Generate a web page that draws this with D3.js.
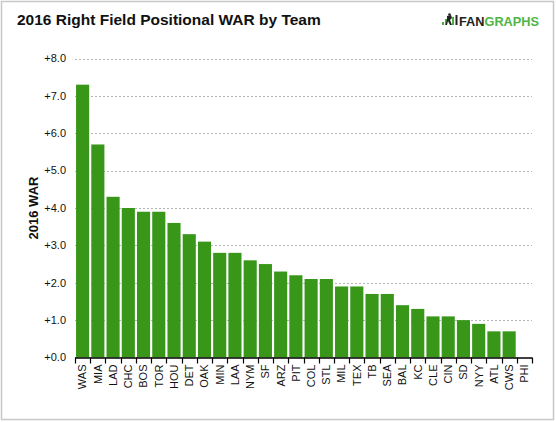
<!DOCTYPE html>
<html>
<head>
<meta charset="utf-8">
<script src="https://cdn.jsdelivr.net/npm/d3@7"></script>
<style>
  html, body { margin: 0; padding: 0; background: #fff; }
  svg { display: block; }
</style>
</head>
<body>
<svg id="chart" width="556" height="422"></svg>
<script>
const teams = ["WAS","MIA","LAD","CHC","BOS","TOR","HOU","DET","OAK","MIN","LAA","NYM","SF","ARZ","PIT","COL","STL","MIL","TEX","TB","SEA","BAL","KC","CLE","CIN","SD","NYY","ATL","CWS","PHI"];
const war = [7.3,5.7,4.3,4.0,3.9,3.9,3.6,3.3,3.1,2.8,2.8,2.6,2.5,2.3,2.2,2.1,2.1,1.9,1.9,1.7,1.7,1.4,1.3,1.1,1.1,1.0,0.9,0.7,0.7,0.0];
const yTicks = [0,1,2,3,4,5,6,7,8];
const title = "2016 Right Field Positional WAR by Team";
const yLabel = "2016 WAR";

(function(){
const svg = d3.select("#chart");
const W = 556, H = 422;
const mLeft = 75, mRight = 532, mTop = 58.5, mBottom = 357.5;

svg.append("rect").attr("x",1.5).attr("y",1.5).attr("width",W-4).attr("height",H-4)
  .attr("fill","#fff").attr("stroke","#c8c8c8").attr("stroke-width",1.5);

const x = d3.scaleBand().domain(teams).range([mLeft,mRight]).paddingInner(0.14).paddingOuter(0.07);
const y = d3.scaleLinear().domain([0,8]).range([mBottom, mTop]);

// gridlines
svg.append("g").selectAll("line").data(yTicks.filter(d=>d>0)).join("line")
  .attr("x1",mLeft).attr("x2",mRight)
  .attr("y1",d=>Math.round(y(d))+0.5).attr("y2",d=>Math.round(y(d))+0.5)
  .attr("stroke","#b4b4b4").attr("stroke-width",1).attr("stroke-dasharray","2,2");

// y tick labels
svg.append("g").selectAll("text").data(yTicks).join("text")
  .attr("x",66).attr("y",d=>y(d)).attr("dy","0.35em")
  .attr("text-anchor","end")
  .attr("font-family","Arial, 'Liberation Sans', sans-serif").attr("font-size",11)
  .attr("fill","#111")
  .text(d=>"+"+d.toFixed(1));

// bars
svg.append("g").selectAll("rect").data(teams).join("rect")
  .attr("x",d=>x(d)).attr("width",x.bandwidth())
  .attr("y",(d,i)=>y(war[i])).attr("height",(d,i)=>y(0)-y(war[i]))
  .attr("fill","#389619");

// x axis
const xAxis = d3.axisBottom(x).tickSize(0).tickFormat("");
const ax = svg.append("g").attr("transform",`translate(0,${mBottom})`).call(xAxis);
ax.select(".domain").attr("stroke","#000").attr("stroke-width",1.5).attr("d",`M${mLeft},0.5H${mRight}`);
const bounds = d3.range(teams.length+1).map(i=>mLeft + i*(mRight-mLeft)/teams.length);
svg.append("g").selectAll("line").data(bounds).join("line")
  .attr("x1",d=>Math.round(d)+0.5).attr("x2",d=>Math.round(d)+0.5)
  .attr("y1",mBottom).attr("y2",mBottom+6)
  .attr("stroke","#000").attr("stroke-width",1.2);

svg.append("g").selectAll("text").data(teams).join("text")
  .attr("transform",d=>`translate(${x(d)+x.bandwidth()/2},${mBottom+7}) rotate(-90)`)
  .attr("text-anchor","end").attr("dy","0.35em")
  .attr("font-family","Arial, 'Liberation Sans', sans-serif").attr("font-size",11)
  .attr("fill","#111")
  .text(d=>d);

// title
svg.append("text").attr("x",17).attr("y",25)
  .attr("font-family","Arial, 'Liberation Sans', sans-serif").attr("font-size",15.5).attr("font-weight","bold")
  .attr("fill","#111").text(title);

// y label
svg.append("text").attr("transform","translate(38,208) rotate(-90)")
  .attr("text-anchor","middle")
  .attr("font-family","Arial, 'Liberation Sans', sans-serif").attr("font-size",13).attr("font-weight","bold")
  .attr("fill","#111").text(yLabel);

// logo
const logo = svg.append("g");
logo.append("rect").attr("x",442).attr("y",22).attr("width",2).attr("height",3).attr("fill","#4caf3a");
logo.append("rect").attr("x",445).attr("y",19).attr("width",2).attr("height",6).attr("fill","#4caf3a");
logo.append("rect").attr("x",452).attr("y",17).attr("width",2).attr("height",8).attr("fill","#4caf3a");
logo.append("rect").attr("x",455.5).attr("y",15).attr("width",2).attr("height",10).attr("fill","#222");
logo.append("path").attr("d","M447,16 L451,15 L452,18 L450,20 L452,25 L450,25 L448,21 L447,25 L445.5,25 L447,19 Z").attr("fill","#222");
logo.append("circle").attr("cx",449.5).attr("cy",14.5).attr("r",1.3).attr("fill","#222");
const lt = logo.append("text").attr("x",459).attr("y",25.5)
  .attr("font-family","Arial, 'Liberation Sans', sans-serif").attr("font-size",13.5).attr("font-weight","bold")
  .attr("textLength",80).attr("lengthAdjust","spacingAndGlyphs");
lt.append("tspan").attr("fill","#222").text("FAN");
lt.append("tspan").attr("fill","#50b545").text("GRAPHS");
})();
</script>
</body>
</html>
